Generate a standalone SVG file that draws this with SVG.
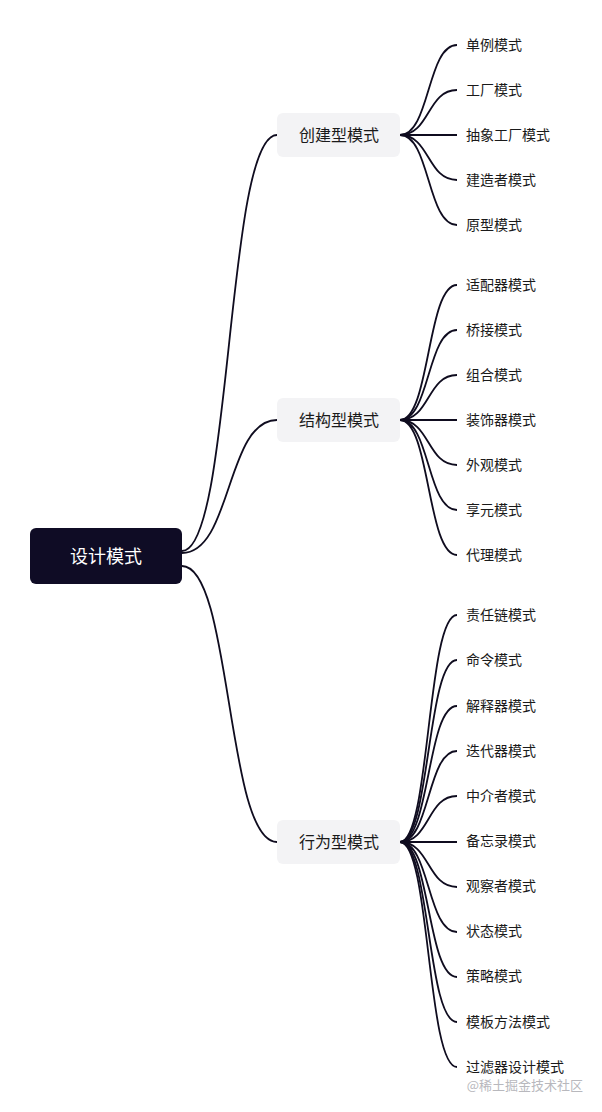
<svg xmlns="http://www.w3.org/2000/svg" width="602" height="1112" viewBox="0 0 602 1112">
<style>
.c{fill:none;stroke:#0f0c1f;stroke-width:1.8}
.t{font-family:"Noto Sans CJK SC","Noto Sans",sans-serif}
.leaf{font-size:14px;fill:#1a1a1a}
.mid{fill:#f3f3f5}
.mt{font-size:16px;fill:#1a1a1a;text-anchor:middle}
</style>
<rect width="602" height="1112" fill="#fff"/>
<g id="connectors">
<path class="c" d="M182,551 C232,551 226,135 277,135"/>
<path class="c" d="M182,553 C232,553 226,420 277,420"/>
<path class="c" d="M182,566 C232,566 226,842 277,842"/>
<g id="c1">
<path class="c" d="M400,135 C430,135 427,45 457,45"/>
<path class="c" d="M400,135 C430,135 427,90 457,90"/>
<path class="c" d="M400,135 L457,135"/>
<path class="c" d="M400,135 C430,135 427,180 457,180"/>
<path class="c" d="M400,135 C430,135 427,225 457,225"/>
</g>
<g id="c2">
<path class="c" d="M400,420 C430,420 427,285 457,285"/>
<path class="c" d="M400,420 C430,420 427,330 457,330"/>
<path class="c" d="M400,420 C430,420 427,375 457,375"/>
<path class="c" d="M400,420 L457,420"/>
<path class="c" d="M400,420 C430,420 427,465 457,465"/>
<path class="c" d="M400,420 C430,420 427,510 457,510"/>
<path class="c" d="M400,420 C430,420 427,555 457,555"/>
</g>
<g id="c3">
<path class="c" d="M400,842 C430,842 427,615 457,615"/>
<path class="c" d="M400,842 C430,842 427,660 457,660"/>
<path class="c" d="M400,842 C430,842 427,706 457,706"/>
<path class="c" d="M400,842 C430,842 427,751 457,751"/>
<path class="c" d="M400,842 C430,842 427,796 457,796"/>
<path class="c" d="M400,842 L457,842"/>
<path class="c" d="M400,842 C430,842 427,887 457,887"/>
<path class="c" d="M400,842 C430,842 427,932 457,932"/>
<path class="c" d="M400,842 C430,842 427,977 457,977"/>
<path class="c" d="M400,842 C430,842 427,1022 457,1022"/>
<path class="c" d="M400,842 C430,842 427,1067 457,1067"/>
</g>
</g>
<g id="root"><rect x="30" y="528" width="152" height="56" rx="6" fill="#0f0c25"/><text class="t" x="106" y="563" font-size="18" fill="#fff" text-anchor="middle">设计模式</text></g>
<g id="n1"><rect class="mid" x="277" y="113" width="123" height="44" rx="6"/><text class="t mt" x="339" y="141">创建型模式</text></g>
<g id="n2"><rect class="mid" x="277" y="398" width="123" height="44" rx="6"/><text class="t mt" x="339" y="426">结构型模式</text></g>
<g id="n3"><rect class="mid" x="277" y="820" width="123" height="44" rx="6"/><text class="t mt" x="339" y="848">行为型模式</text></g>
<g id="leaves" class="t leaf">
<text x="466" y="50">单例模式</text>
<text x="466" y="95">工厂模式</text>
<text x="466" y="140">抽象工厂模式</text>
<text x="466" y="185">建造者模式</text>
<text x="466" y="230">原型模式</text>
<text x="466" y="290">适配器模式</text>
<text x="466" y="335">桥接模式</text>
<text x="466" y="380">组合模式</text>
<text x="466" y="425">装饰器模式</text>
<text x="466" y="470">外观模式</text>
<text x="466" y="515">享元模式</text>
<text x="466" y="560">代理模式</text>
<text x="466" y="620">责任链模式</text>
<text x="466" y="665">命令模式</text>
<text x="466" y="711">解释器模式</text>
<text x="466" y="756">迭代器模式</text>
<text x="466" y="801">中介者模式</text>
<text x="466" y="846">备忘录模式</text>
<text x="466" y="891">观察者模式</text>
<text x="466" y="936">状态模式</text>
<text x="466" y="981">策略模式</text>
<text x="466" y="1027">模板方法模式</text>
<text x="466" y="1072">过滤器设计模式</text>
</g>
<text class="t" x="583" y="1090" font-size="13" fill="#b8b8bd" text-anchor="end">@稀土掘金技术社区</text>
</svg>
